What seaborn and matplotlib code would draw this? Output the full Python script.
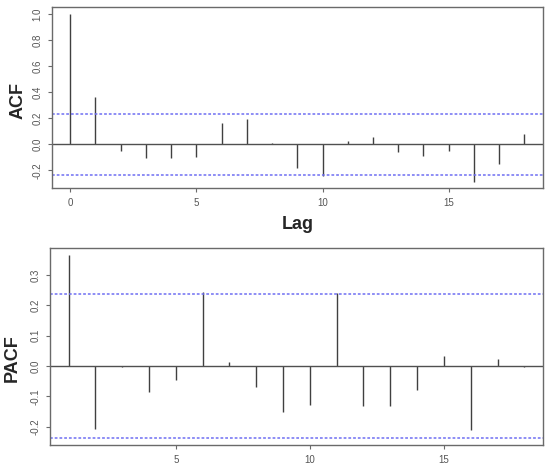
import numpy as np
import pandas as pd
import matplotlib
matplotlib.use("Agg")
import matplotlib.pyplot as plt
import seaborn as sns

acf_lags = list(range(0, 19))
acf_vals = [1.0, 0.365, -0.051, -0.103, -0.108, -0.095, 0.166, 0.197, 0.008,
            -0.184, -0.241, 0.025, 0.054, -0.057, -0.087, -0.051, -0.287, -0.153, 0.079]
pacf_lags = list(range(1, 19))
pacf_vals = [0.366, -0.208, -0.002, -0.085, -0.046, 0.245, 0.014, -0.070, -0.151,
             -0.128, 0.242, -0.132, -0.132, -0.080, 0.032, -0.212, 0.023, -0.003]
acf_ci = 0.233
pacf_ci = 0.236
acf_yticks = [-0.2, 0.0, 0.2, 0.4, 0.6, 0.8, 1.0]
pacf_yticks = [-0.2, -0.1, 0.0, 0.1, 0.2, 0.3]
acf_xticks = [0, 5, 10, 15]
pacf_xticks = [5, 10, 15]

sns.set_theme(style="white")
plt.rcParams['font.family'] = ['Liberation Sans', 'DejaVu Sans']

acf_df = pd.DataFrame({"lag": acf_lags, "value": acf_vals})
pacf_df = pd.DataFrame({"lag": pacf_lags, "value": pacf_vals})

fig = plt.figure(figsize=(5.5, 4.75), dpi=100)
ax1 = fig.add_axes([0.0945, 0.6042, 0.892, 0.381])
ax2 = fig.add_axes([0.0915, 0.0632, 0.895, 0.414])

stem_color = "#404040"
frame_color = "#6a6a6a"
ci_color = "#6f6ff2"
tick_color = "#555555"

def draw(ax, df, ci, yticks, xticks, xlim, ylim, ylabel, xlabel, ylabel_xy):
    ax.vlines(df["lag"], 0, df["value"], color=stem_color, lw=1.0)
    ax.axhline(0, color="#505050", lw=1.0)
    ax.axhline(ci, color=ci_color, lw=1.1, ls=(0, (1.8, 1.3)))
    ax.axhline(-ci, color=ci_color, lw=1.1, ls=(0, (1.8, 1.3)))
    ax.set_xlim(*xlim)
    ax.set_ylim(*ylim)
    ax.set_yticks(yticks)
    ax.set_yticklabels([f"{v:.1f}" for v in yticks], rotation=90, va="center")
    ax.set_xticks(xticks)
    ax.set_xticklabels([str(v) for v in xticks])
    ax.tick_params(axis="both", direction="out", length=3, width=0.8,
                   color=frame_color, labelcolor=tick_color, labelsize=7, pad=4,
                   bottom=True, left=True)
    for s in ax.spines.values():
        s.set_color(frame_color)
        s.set_linewidth(1.0)
    ax.set_ylabel(ylabel, fontsize=13, fontweight="bold")
    ax.yaxis.set_label_coords(*ylabel_xy)
    if xlabel:
        ax.set_xlabel(xlabel, fontsize=13, fontweight="bold", labelpad=6)
    else:
        ax.set_xlabel("")

draw(ax1, acf_df, acf_ci, acf_yticks, acf_xticks, (-0.72, 18.72), (-0.335, 1.054), "ACF", "Lag", (-0.052, 0.486))
draw(ax2, pacf_df, pacf_ci, pacf_yticks, pacf_xticks, (0.32, 18.68), (-0.260, 0.388), "PACF", None, (-0.0605, 0.442))

fig.savefig("out.png", dpi=100)
